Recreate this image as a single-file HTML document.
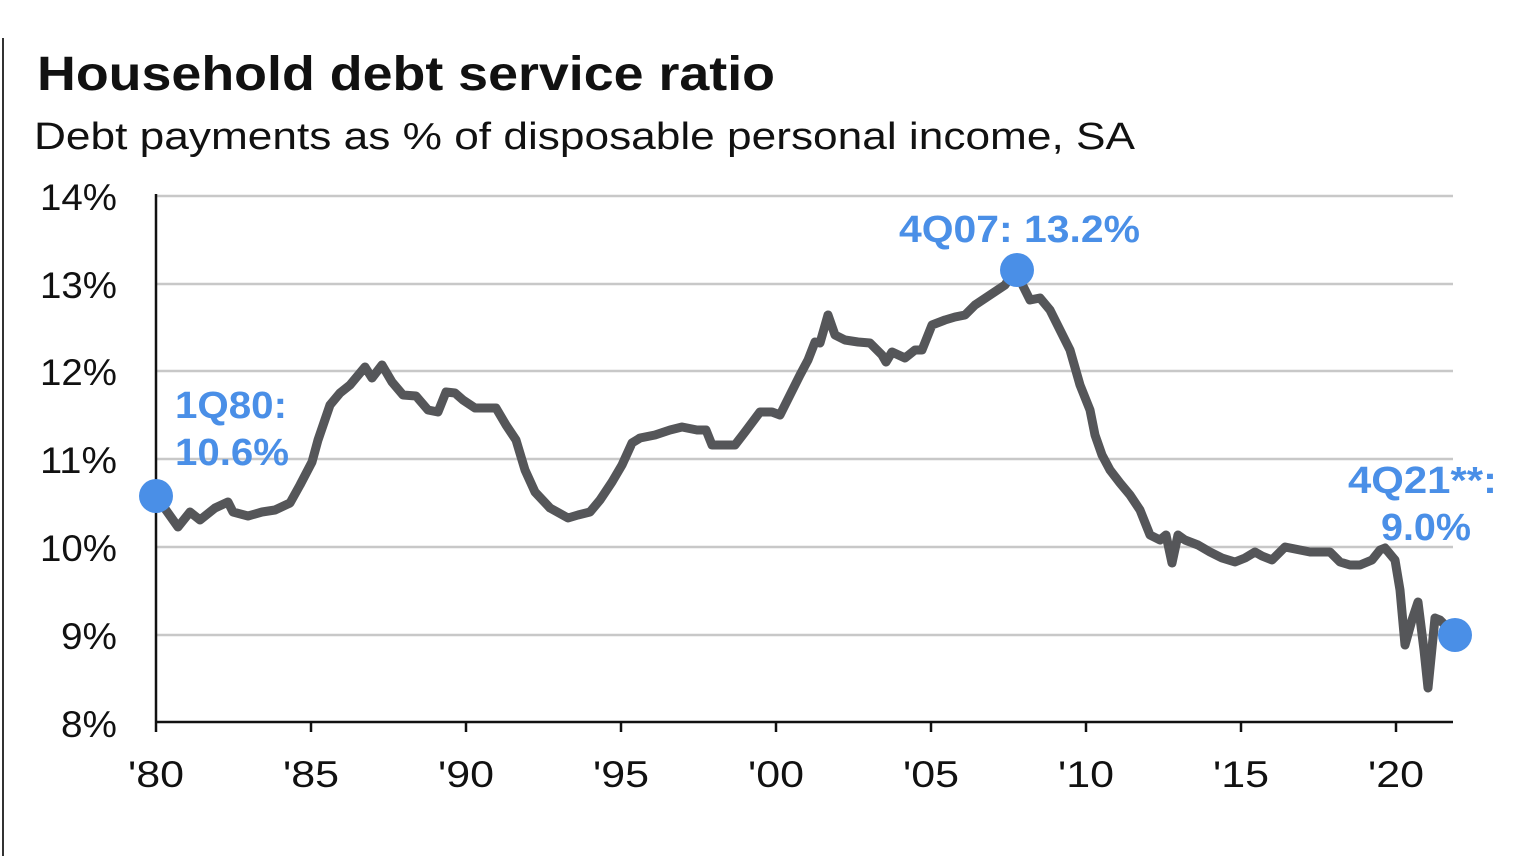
<!DOCTYPE html>
<html><head><meta charset="utf-8"><style>
html,body{margin:0;padding:0;background:#fff;}
svg{display:block;}
text{font-family:"Liberation Sans",Arial,sans-serif;}
</style></head><body>
<svg width="1536" height="856" viewBox="0 0 1536 856" xmlns="http://www.w3.org/2000/svg">
<rect width="1536" height="856" fill="#fff"/>
<line x1="3" y1="38" x2="3" y2="856" stroke="#333" stroke-width="2"/>
<text x="37" y="90" font-size="48" font-weight="bold" fill="#111" textLength="738" lengthAdjust="spacingAndGlyphs">Household debt service ratio</text>
<text x="34" y="149" font-size="38" fill="#111" textLength="1101" lengthAdjust="spacingAndGlyphs">Debt payments as % of disposable personal income, SA</text>
<g stroke="#c8c8c8" stroke-width="2.5">
<line x1="156" y1="196" x2="1453" y2="196"/>
<line x1="156" y1="284" x2="1453" y2="284"/>
<line x1="156" y1="371" x2="1453" y2="371"/>
<line x1="156" y1="459" x2="1453" y2="459"/>
<line x1="156" y1="547" x2="1453" y2="547"/>
<line x1="156" y1="635" x2="1453" y2="635"/>
</g>
<line x1="156" y1="722" x2="1453" y2="722" stroke="#111" stroke-width="2.5"/>
<line x1="156" y1="194" x2="156" y2="722" stroke="#111" stroke-width="2.5"/>
<g stroke="#111" stroke-width="2.5">
<line x1="156" y1="722" x2="156" y2="732"/><line x1="311" y1="722" x2="311" y2="732"/>
<line x1="466" y1="722" x2="466" y2="732"/><line x1="621" y1="722" x2="621" y2="732"/>
<line x1="776" y1="722" x2="776" y2="732"/><line x1="931" y1="722" x2="931" y2="732"/>
<line x1="1086" y1="722" x2="1086" y2="732"/><line x1="1241" y1="722" x2="1241" y2="732"/>
<line x1="1396" y1="722" x2="1396" y2="732"/>
</g>
<g font-size="37" fill="#111">
<text x="40" y="210" textLength="77" lengthAdjust="spacingAndGlyphs">14%</text>
<text x="40" y="298" textLength="77" lengthAdjust="spacingAndGlyphs">13%</text>
<text x="40" y="385" textLength="77" lengthAdjust="spacingAndGlyphs">12%</text>
<text x="40" y="473" textLength="77" lengthAdjust="spacingAndGlyphs">11%</text>
<text x="40" y="561" textLength="77" lengthAdjust="spacingAndGlyphs">10%</text>
<text x="61" y="649" textLength="56" lengthAdjust="spacingAndGlyphs">9%</text>
<text x="61" y="737" textLength="56" lengthAdjust="spacingAndGlyphs">8%</text>
</g>
<g font-size="37" fill="#111">
<text x="128" y="787" textLength="56" lengthAdjust="spacingAndGlyphs">'80</text>
<text x="283" y="787" textLength="56" lengthAdjust="spacingAndGlyphs">'85</text>
<text x="438" y="787" textLength="56" lengthAdjust="spacingAndGlyphs">'90</text>
<text x="593" y="787" textLength="56" lengthAdjust="spacingAndGlyphs">'95</text>
<text x="748" y="787" textLength="56" lengthAdjust="spacingAndGlyphs">'00</text>
<text x="903" y="787" textLength="56" lengthAdjust="spacingAndGlyphs">'05</text>
<text x="1058" y="787" textLength="56" lengthAdjust="spacingAndGlyphs">'10</text>
<text x="1213" y="787" textLength="56" lengthAdjust="spacingAndGlyphs">'15</text>
<text x="1368" y="787" textLength="56" lengthAdjust="spacingAndGlyphs">'20</text>
</g>
<polyline fill="none" stroke="#555659" stroke-width="9" stroke-linejoin="round" stroke-linecap="round" points="156,496 178,527 190,512 200,520 215,508 228,502 233,512 248,516 262,512 275,510 290,503 300,485 312,462 318,440 330,405 340,393 350,385 365,367 372,378 382,365 392,382 403,395 416,396 428,410 438,412 446,392 455,393 463,400 475,408 496,408 506,425 516,440 525,470 535,492 550,508 568,518 578,515 590,512 600,500 612,482 622,465 632,443 640,438 655,435 670,430 682,427 697,430 706,430 712,445 735,445 745,432 760,412 772,412 780,415 790,395 800,375 808,360 815,342 820,343 828,315 835,335 845,340 858,342 870,343 882,355 886,362 892,352 905,358 915,350 922,350 932,325 945,320 955,317 965,315 975,305 990,295 1005,285 1015,270 1030,300 1040,298 1050,310 1060,330 1070,350 1080,385 1090,410 1095,435 1102,455 1110,470 1120,483 1130,495 1140,510 1150,535 1160,540 1166,535 1172,563 1178,535 1185,540 1198,545 1210,552 1222,558 1235,562 1245,558 1255,552 1262,556 1272,560 1285,547 1300,550 1310,552 1330,552 1340,562 1350,565 1360,565 1372,560 1380,550 1385,548 1395,560 1400,590 1405,645 1412,620 1418,602 1424,650 1428,688 1435,618 1440,620 1455,635"/>
<g fill="#4a8fe7">
<circle cx="156" cy="496" r="17"/>
<circle cx="1017" cy="270" r="17"/>
<circle cx="1455" cy="635" r="17"/>
</g>
<g font-size="38" font-weight="bold" fill="#4a8fe7">
<text x="899" y="242" textLength="241" lengthAdjust="spacingAndGlyphs">4Q07: 13.2%</text>
<text x="175" y="418" textLength="112" lengthAdjust="spacingAndGlyphs">1Q80:</text>
<text x="175" y="465" textLength="114" lengthAdjust="spacingAndGlyphs">10.6%</text>
<text x="1348" y="493" textLength="149" lengthAdjust="spacingAndGlyphs">4Q21**:</text>
<text x="1381" y="540" textLength="90" lengthAdjust="spacingAndGlyphs">9.0%</text>
</g>
</svg>
</body></html>
